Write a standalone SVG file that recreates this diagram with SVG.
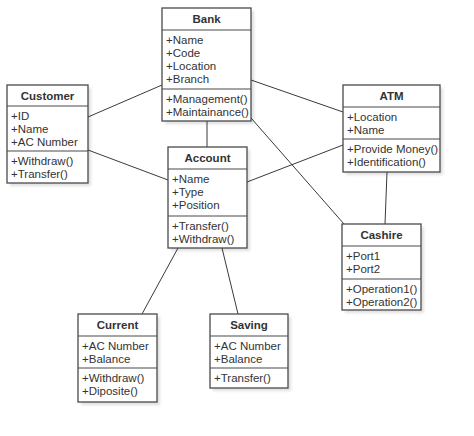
<svg xmlns="http://www.w3.org/2000/svg" width="474" height="436" viewBox="0 0 474 436">
<style>
.box{fill:#fff;stroke:#4a4a4a;stroke-width:1.3}
.sh{fill:#000;opacity:0.12}
.sep{stroke:#4a4a4a;stroke-width:1.2}
.t{font-family:"Liberation Sans",Arial,sans-serif;font-size:11.5px;fill:#333}
.h{font-family:"Liberation Sans",Arial,sans-serif;font-size:11.5px;font-weight:bold;fill:#333;text-anchor:middle}
.c{stroke:#3a3a3a;stroke-width:1;fill:none}
</style>
<defs><filter id="blur" x="-10%" y="-10%" width="130%" height="130%"><feGaussianBlur stdDeviation="1.5"/></filter></defs>
<rect width="474" height="436" fill="#fff"/>
<g id="connectors">
<line class="c" x1="88" y1="117" x2="162" y2="85"/>
<line class="c" x1="88" y1="150" x2="168" y2="180"/>
<line class="c" x1="251" y1="80" x2="343" y2="112"/>
<line class="c" x1="251" y1="118" x2="344" y2="224"/>
<line class="c" x1="247" y1="182" x2="343" y2="145"/>
<line class="c" x1="207" y1="121" x2="207" y2="147"/>
<line class="c" x1="387" y1="172" x2="385" y2="224"/>
<line class="c" x1="178" y1="248" x2="142" y2="314"/>
<line class="c" x1="222" y1="248" x2="238" y2="314"/>
</g>
<g id="bank">
<rect class="sh" x="165" y="11" width="89" height="113" filter="url(#blur)"/>
<rect class="box" x="162" y="8" width="89" height="113"/>
<line class="sep" x1="162" y1="30" x2="251" y2="30"/><line class="sep" x1="162" y1="89" x2="251" y2="89"/>
<text class="h" x="206.5" y="23">Bank</text>
<text class="t" x="166" y="44">+Name</text><text class="t" x="166" y="57">+Code</text><text class="t" x="166" y="70">+Location</text><text class="t" x="166" y="83">+Branch</text>
<text class="t" x="166" y="103">+Management()</text><text class="t" x="166" y="116">+Maintainance()</text>
</g>
<g id="customer">
<rect class="sh" x="10" y="88" width="81" height="98" filter="url(#blur)"/>
<rect class="box" x="7" y="85" width="81" height="98"/>
<line class="sep" x1="7" y1="106" x2="88" y2="106"/><line class="sep" x1="7" y1="151" x2="88" y2="151"/>
<text class="h" x="47.5" y="100">Customer</text>
<text class="t" x="11" y="120">+ID</text><text class="t" x="11" y="133">+Name</text><text class="t" x="11" y="146">+AC Number</text>
<text class="t" x="11" y="165">+Withdraw()</text><text class="t" x="11" y="178">+Transfer()</text>
</g>
<g id="atm">
<rect class="sh" x="346" y="88" width="97" height="87" filter="url(#blur)"/>
<rect class="box" x="343" y="85" width="97" height="87"/>
<line class="sep" x1="343" y1="107" x2="440" y2="107"/><line class="sep" x1="343" y1="139" x2="440" y2="139"/>
<text class="h" x="391.5" y="100">ATM</text>
<text class="t" x="347" y="121">+Location</text><text class="t" x="347" y="134">+Name</text>
<text class="t" x="347" y="153">+Provide Money()</text><text class="t" x="347" y="166">+Identification()</text>
</g>
<g id="account">
<rect class="sh" x="171" y="150" width="79" height="101" filter="url(#blur)"/>
<rect class="box" x="168" y="147" width="79" height="101"/>
<line class="sep" x1="168" y1="169" x2="247" y2="169"/><line class="sep" x1="168" y1="216" x2="247" y2="216"/>
<text class="h" x="207.5" y="162">Account</text>
<text class="t" x="172" y="183">+Name</text><text class="t" x="172" y="196">+Type</text><text class="t" x="172" y="209">+Position</text>
<text class="t" x="172" y="230">+Transfer()</text><text class="t" x="172" y="243">+Withdraw()</text>
</g>
<g id="cashire">
<rect class="sh" x="345" y="227" width="79" height="86" filter="url(#blur)"/>
<rect class="box" x="342" y="224" width="79" height="86"/>
<line class="sep" x1="342" y1="246" x2="421" y2="246"/><line class="sep" x1="342" y1="279" x2="421" y2="279"/>
<text class="h" x="381.5" y="239">Cashire</text>
<text class="t" x="346" y="260">+Port1</text><text class="t" x="346" y="273">+Port2</text>
<text class="t" x="346" y="293">+Operation1()</text><text class="t" x="346" y="306">+Operation2()</text>
</g>
<g id="current">
<rect class="sh" x="81" y="317" width="79" height="88" filter="url(#blur)"/>
<rect class="box" x="78" y="314" width="79" height="88"/>
<line class="sep" x1="78" y1="336" x2="157" y2="336"/><line class="sep" x1="78" y1="368" x2="157" y2="368"/>
<text class="h" x="117.5" y="329">Current</text>
<text class="t" x="82" y="350">+AC Number</text><text class="t" x="82" y="363">+Balance</text>
<text class="t" x="82" y="382">+Withdraw()</text><text class="t" x="82" y="395">+Diposite()</text>
</g>
<g id="saving">
<rect class="sh" x="213" y="317" width="78" height="74" filter="url(#blur)"/>
<rect class="box" x="210" y="314" width="78" height="74"/>
<line class="sep" x1="210" y1="336" x2="288" y2="336"/><line class="sep" x1="210" y1="368" x2="288" y2="368"/>
<text class="h" x="249" y="329">Saving</text>
<text class="t" x="214" y="350">+AC Number</text><text class="t" x="214" y="363">+Balance</text>
<text class="t" x="214" y="382">+Transfer()</text>
</g>
</svg>
